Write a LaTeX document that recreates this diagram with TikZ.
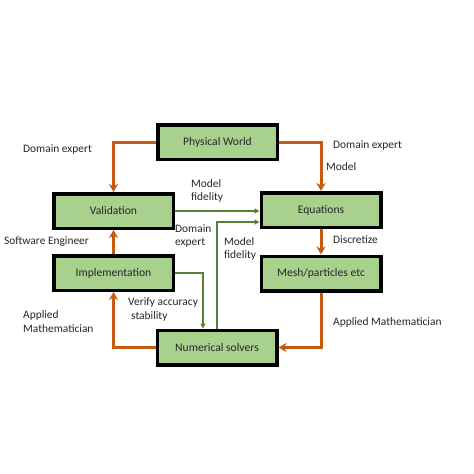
\documentclass[tikz,border=0pt]{standalone}
\usepackage{fontspec}
\setmainfont{Carlito}
\usetikzlibrary{arrows.meta,calc}
\definecolor{boxfill}{HTML}{A9D18E}
\definecolor{orangeline}{HTML}{C55A11}
\definecolor{greenline}{HTML}{548235}
\definecolor{txt}{HTML}{262626}
\begin{document}
\begin{tikzpicture}[x=1pt,y=-1pt,
  box/.style={draw=black,line width=3.5pt,fill=boxfill,minimum width=119.5pt,minimum height=34.5pt,inner sep=0pt,font=\fontsize{11.6pt}{13pt}\selectfont,text=txt},
  oarr/.style={draw=orangeline,line width=3pt,-{Stealth[length=8pt,width=9pt,inset=2.5pt]}},
  garr/.style={draw=greenline,line width=1.4pt,-{Triangle[length=5pt,width=5pt]}},
  lbl/.style={font=\fontsize{11.4pt}{13.5pt}\selectfont,text=txt,inner sep=0pt,align=left}]
\useasboundingbox[fill=white] (0,0) rectangle (474,474);
% boxes
\node[box] (pw) at (217.5,142) {Physical World};
\node[box] (val) at (113.5,211) {Validation};
\node[box] (eq) at (321,210) {Equations};
\node[box] (impl) at (113.5,273) {Implementation};
\node[box] (mesh) at (321,273.5) {Mesh/particles etc};
\node[box] (ns) at (217,347.5) {Numerical solvers};
% orange connectors
\draw[oarr] (pw.west) -| (val.north);
\draw[oarr] (pw.east) -| (eq.north);
\draw[oarr] (eq.south) -- (mesh.north);
\draw[oarr] (mesh.south) |- (ns.east);
\draw[oarr] (ns.west) -| (impl.south);
\draw[oarr] (impl.north) -- (val.south);
% green connectors
\draw[garr] (val.east) -- (val.east -| eq.west);
\draw[garr] (ns.north) |- ($(eq.west)+(0,12)$);
\draw[garr] (impl.east) -| ($(ns.north)+(-14,0)$);
% labels
\node[lbl,anchor=west] (l1) at (23,149) {Domain expert};
\node[lbl,anchor=west] (l2) at (333,145) {Domain expert};
\node[lbl,anchor=west] (l3) at (326,167) {Model};
\node[lbl,anchor=west] (l4) at (191,191) {Model\\fidelity};
\node[lbl,anchor=west] (l5) at (175,236) {Domain\\expert};
\node[lbl,anchor=west] (l6) at (224,249) {Model\\fidelity};
\node[lbl,anchor=west] (l7) at (333,240) {Discretize};
\node[lbl,anchor=west] (l8) at (4,242) {Software Engineer};
\node[lbl,anchor=west] (l9) at (23,321.5) {Applied\\Mathematician};
\node[lbl,anchor=west] (l10) at (128,309.5) {Verify accuracy\\\hspace{3pt}stability};
\node[lbl,anchor=west] (l11) at (333,322) {Applied Mathematician};
\end{tikzpicture}
\end{document}
